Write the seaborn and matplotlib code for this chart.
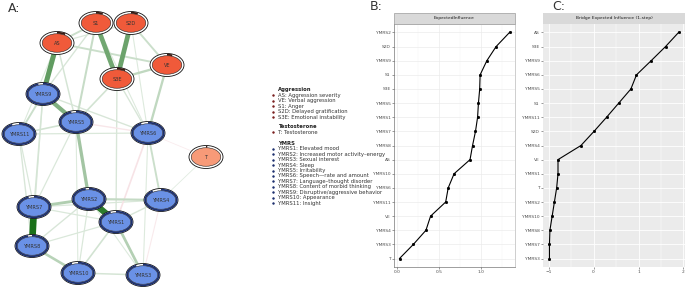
import matplotlib
matplotlib.use("Agg")
import matplotlib.pyplot as plt
import matplotlib.colors as mcolors
from matplotlib.patches import Ellipse, Arc, Rectangle
from matplotlib.ticker import MultipleLocator
import numpy as np
import pandas as pd
import seaborn as sns

# ---- data ----
agg_nodes = ["AS", "VE", "S1", "S2D", "S3E"]
t_nodes = ["T"]
ymrs_nodes = ["YMRS1", "YMRS2", "YMRS3", "YMRS4", "YMRS5", "YMRS6",
              "YMRS7", "YMRS8", "YMRS9", "YMRS10", "YMRS11"]

# predictability (pie ring around each node)
predictability = {"AS": 0.12, "VE": 0.08, "S1": 0.10, "S2D": 0.10, "S3E": 0.12, "T": 0.02,
                  "YMRS1": 0.92, "YMRS2": 0.95, "YMRS3": 0.90, "YMRS4": 0.88, "YMRS5": 0.93,
                  "YMRS6": 0.90, "YMRS7": 0.92, "YMRS8": 0.94, "YMRS9": 0.93, "YMRS10": 0.91,
                  "YMRS11": 0.90}

edge_from = ["YMRS7", "YMRS2", "AS", "S1", "S2D", "YMRS9", "YMRS5", "YMRS7", "YMRS1", "YMRS8",
             "S3E", "VE", "YMRS2", "S1", "AS", "AS", "S2D", "YMRS9", "YMRS6", "YMRS5",
             "YMRS10", "YMRS1", "YMRS9", "YMRS11", "S3E", "S3E", "AS", "S1", "S2D", "YMRS6",
             "YMRS9", "YMRS4", "YMRS4", "YMRS2", "YMRS7", "YMRS8", "YMRS10", "YMRS3", "YMRS11", "YMRS5",
             "YMRS5", "S3E", "S1", "S2D", "AS", "YMRS9", "YMRS6",
             "YMRS5", "YMRS6", "YMRS4", "T", "T"]
edge_to = ["YMRS8", "YMRS1", "YMRS9", "S3E", "S3E", "YMRS5", "YMRS2", "YMRS2", "YMRS3", "YMRS10",
           "VE", "YMRS6", "YMRS4", "YMRS5", "S1", "VE", "VE", "YMRS11", "YMRS4", "YMRS11",
           "YMRS3", "YMRS10", "YMRS7", "YMRS8", "YMRS5", "YMRS1", "YMRS5", "YMRS9", "AS", "YMRS11",
           "YMRS6", "YMRS1", "YMRS7", "YMRS8", "YMRS1", "YMRS1", "YMRS2", "YMRS2", "YMRS7", "YMRS7",
           "YMRS10", "YMRS6", "YMRS6", "YMRS6", "YMRS11", "YMRS8", "YMRS3",
           "YMRS6", "YMRS1", "YMRS3", "YMRS6", "YMRS4"]
edge_weight = [0.45, 0.42, 0.33, 0.30, 0.31, 0.27, 0.20, 0.17, 0.16, 0.15,
               0.13, 0.13, 0.12, 0.11, 0.10, 0.10, 0.10, 0.10, 0.10, 0.08,
               0.07, 0.08, 0.07, 0.06, 0.08, 0.06, 0.07, 0.06, 0.05, 0.05,
               0.06, 0.06, 0.05, 0.06, 0.05, 0.05, 0.05, 0.04, 0.05, 0.05,
               0.04, 0.06, 0.04, 0.04, 0.04, 0.04, 0.04,
               -0.06, -0.08, -0.04, -0.02, 0.02]

legend_agg = ["AS: Aggression severity", "VE: Verbal aggression", "S1: Anger",
              "S2D: Delayed gratification", "S3E: Emotional instability"]
legend_t = ["T: Testosterone"]
legend_ymrs = ["YMRS1: Elevated mood", "YMRS2: Increased motor activity\u2013energy",
               "YMRS3: Sexual interest", "YMRS4: Sleep", "YMRS5: Irritability",
               "YMRS6: Speech\u2014rate and amount", "YMRS7: Language\u2013thought disorder",
               "YMRS8: Content of morbid thinking", "YMRS9: Disruptive/aggressive behavior",
               "YMRS10: Appearance", "YMRS11: Insight"]

# panel B: expected influence (top to bottom)
ei_nodes = ["YMRS2", "S2D", "YMRS9", "S1", "S3E", "YMRS5", "YMRS1", "YMRS7", "YMRS8",
            "AS", "YMRS10", "YMRS6", "YMRS11", "VE", "YMRS4", "YMRS3", "T"]
ei_values = [1.34, 1.18, 1.07, 0.99, 0.985, 0.97, 0.96, 0.935, 0.90,
             0.87, 0.68, 0.61, 0.58, 0.40, 0.345, 0.195, 0.03]

# panel C: bridge expected influence (top to bottom)
bei_nodes = ["AS", "S3E", "YMRS9", "YMRS6", "YMRS5", "S1", "YMRS11", "S2D", "YMRS4",
             "VE", "YMRS1", "T", "YMRS2", "YMRS10", "YMRS8", "YMRS7", "YMRS3"]
bei_values = [1.89, 1.60, 1.28, 0.955, 0.83, 0.56, 0.29, 0.01, -0.28,
              -0.79, -0.79, -0.82, -0.87, -0.92, -0.97, -0.98, -0.98]

# ---- layout (pixel coords of network nodes) ----
node_pos = {"S1": (96, 23), "S2D": (131, 23), "AS": (57, 43), "VE": (167, 65), "S3E": (117, 79),
            "YMRS9": (43, 94), "YMRS5": (76, 122), "YMRS11": (19, 134), "YMRS6": (148, 133),
            "T": (206, 157), "YMRS2": (89, 199), "YMRS4": (161, 200), "YMRS7": (34, 207),
            "YMRS1": (116, 222), "YMRS8": (32, 246), "YMRS10": (78, 273), "YMRS3": (143, 275)}

col_agg = "#F05A3A"
col_t = "#F79A78"
col_ymrs = "#6A91E6"

W, H = 685, 289
fig = plt.figure(figsize=(W / 100, H / 100), dpi=100)

# ---- panel A: network ----
ax = fig.add_axes([0, 0, 1, 1])
ax.set_xlim(0, W)
ax.set_ylim(H, 0)
ax.axis("off")

green = np.array(mcolors.to_rgb("#1a701a"))
pink = np.array(mcolors.to_rgb("#d9707f"))
wmax = max(abs(w) for w in edge_weight)
order = np.argsort([abs(w) for w in edge_weight])
for i in order:
    a, b, w = edge_from[i], edge_to[i], edge_weight[i]
    f = abs(w) / wmax
    base = green if w > 0 else pink
    c = 1 - (1 - base) * (0.12 + 0.88 * f ** 1.4)
    (x1, y1), (x2, y2) = node_pos[a], node_pos[b]
    ax.plot([x1, x2], [y1, y2], color=c, lw=0.4 + 4.4 * f, solid_capstyle="round", zorder=1)

for name, (x, y) in node_pos.items():
    if name in agg_nodes:
        fc, rc = col_agg, "#3a1a12"
    elif name in t_nodes:
        fc, rc = col_t, "#3a1a12"
    else:
        fc, rc = col_ymrs, "#1c2f6e"
    ax.add_patch(Ellipse((x, y), 34, 23, facecolor="white", edgecolor="#111111", lw=0.6, zorder=3))
    ax.add_patch(Ellipse((x, y), 29.5, 18.5, facecolor=fc, edgecolor="#222222", lw=0.4, zorder=4))
    p = predictability[name]
    if p > 0:
        # y axis is inverted, so angles run clockwise from the top
        ax.add_patch(Arc((x, y), 31.5, 20.5, theta1=270, theta2=270 + 360 * p,
                         color=rc, lw=1.3, zorder=5))
    ax.text(x, y + 0.5, name, ha="center", va="center", fontsize=3.6, color="#333333", zorder=6)

ax.text(8, 9, "A:", fontsize=9, color="#333333", va="center")
ax.text(370, 7, "B:", fontsize=9, color="#333333", va="center")
ax.text(552, 6, "C:", fontsize=9, color="#333333", va="center")

# legend block
lx_dot, lx_txt = 273.5, 278
step = 5.45
blocks = [("Aggression", legend_agg, "#7a1f1f", 90),
          ("Testosterone", legend_t, "#7a1f1f", 127),
          ("YMRS", legend_ymrs, "#1c2f6e", 143.3)]
for title, items, dc, y0 in blocks:
    ax.text(lx_txt, y0, title, fontsize=3.8, fontweight="bold", color="#222222", va="center")
    for k, txt in enumerate(items):
        yy = y0 + step * (k + 1)
        ax.plot(lx_dot, yy, "o", ms=2.2, mfc=dc, mec="white", mew=0.4, zorder=3)
        ax.text(lx_txt, yy, txt, fontsize=3.8, color="#333333", va="center")


def centrality_panel(rect, nodes, values, title, major, minor, bw):
    axp = fig.add_axes(rect)
    df = pd.DataFrame({"node": nodes, "value": values})
    sns.pointplot(data=df, x="value", y="node", order=nodes, color="black",
                  markersize=1.6, linewidth=0.8, errorbar=None, ax=axp)
    lo, hi = min(values), max(values)
    pad = 0.05 * (hi - lo)
    axp.set_xlim(lo - pad, hi + pad)
    axp.set_ylim(len(nodes) - 1 + 0.6, -0.6)
    axp.xaxis.set_major_locator(MultipleLocator(major))
    axp.xaxis.set_minor_locator(MultipleLocator(minor))
    axp.set_xlabel("")
    axp.set_ylabel("")
    axp.tick_params(axis="both", which="major", labelsize=3.2, length=1.5, width=0.4,
                    pad=1, colors="#4d4d4d", labelcolor="#4d4d4d")
    axp.tick_params(axis="x", which="minor", length=0)
    axp.set_axisbelow(True)
    if bw:
        axp.set_facecolor("white")
        axp.grid(True, which="major", color="#EBEBEB", lw=0.5)
        axp.grid(True, which="minor", axis="x", color="#F2F2F2", lw=0.3)
        for s in axp.spines.values():
            s.set_color("#aaaaaa")
            s.set_linewidth(0.4)
        axp.spines["left"].set_color("#555555")
        axp.spines["bottom"].set_color("#555555")
        strip_fc, strip_ec = "#D9D9D9", "#888888"
    else:
        axp.set_facecolor("#EBEBEB")
        axp.grid(True, which="major", color="white", lw=0.6)
        axp.grid(True, which="minor", axis="x", color="white", lw=0.3)
        for s in axp.spines.values():
            s.set_visible(False)
        strip_fc, strip_ec = "#D9D9D9", "none"
    sh = 11 / (rect[3] * H)
    axp.add_patch(Rectangle((0, 1), 1, sh, transform=axp.transAxes, clip_on=False,
                            facecolor=strip_fc, edgecolor=strip_ec, lw=0.4))
    axp.text(0.5, 1 + sh / 2, title, transform=axp.transAxes, ha="center", va="center",
             fontsize=3.2, color="#1a1a1a")
    return axp


centrality_panel([394 / W, 1 - 267 / H, 121 / W, 243 / H], ei_nodes, ei_values,
                 "ExpectedInfluence", 0.5, 0.25, True)
centrality_panel([543 / W, 1 - 267 / H, 142 / W, 243 / H], bei_nodes, bei_values,
                 "Bridge Expected Influence (1-step)", 1.0, 0.5, False)

fig.savefig("out.png", dpi=100)
